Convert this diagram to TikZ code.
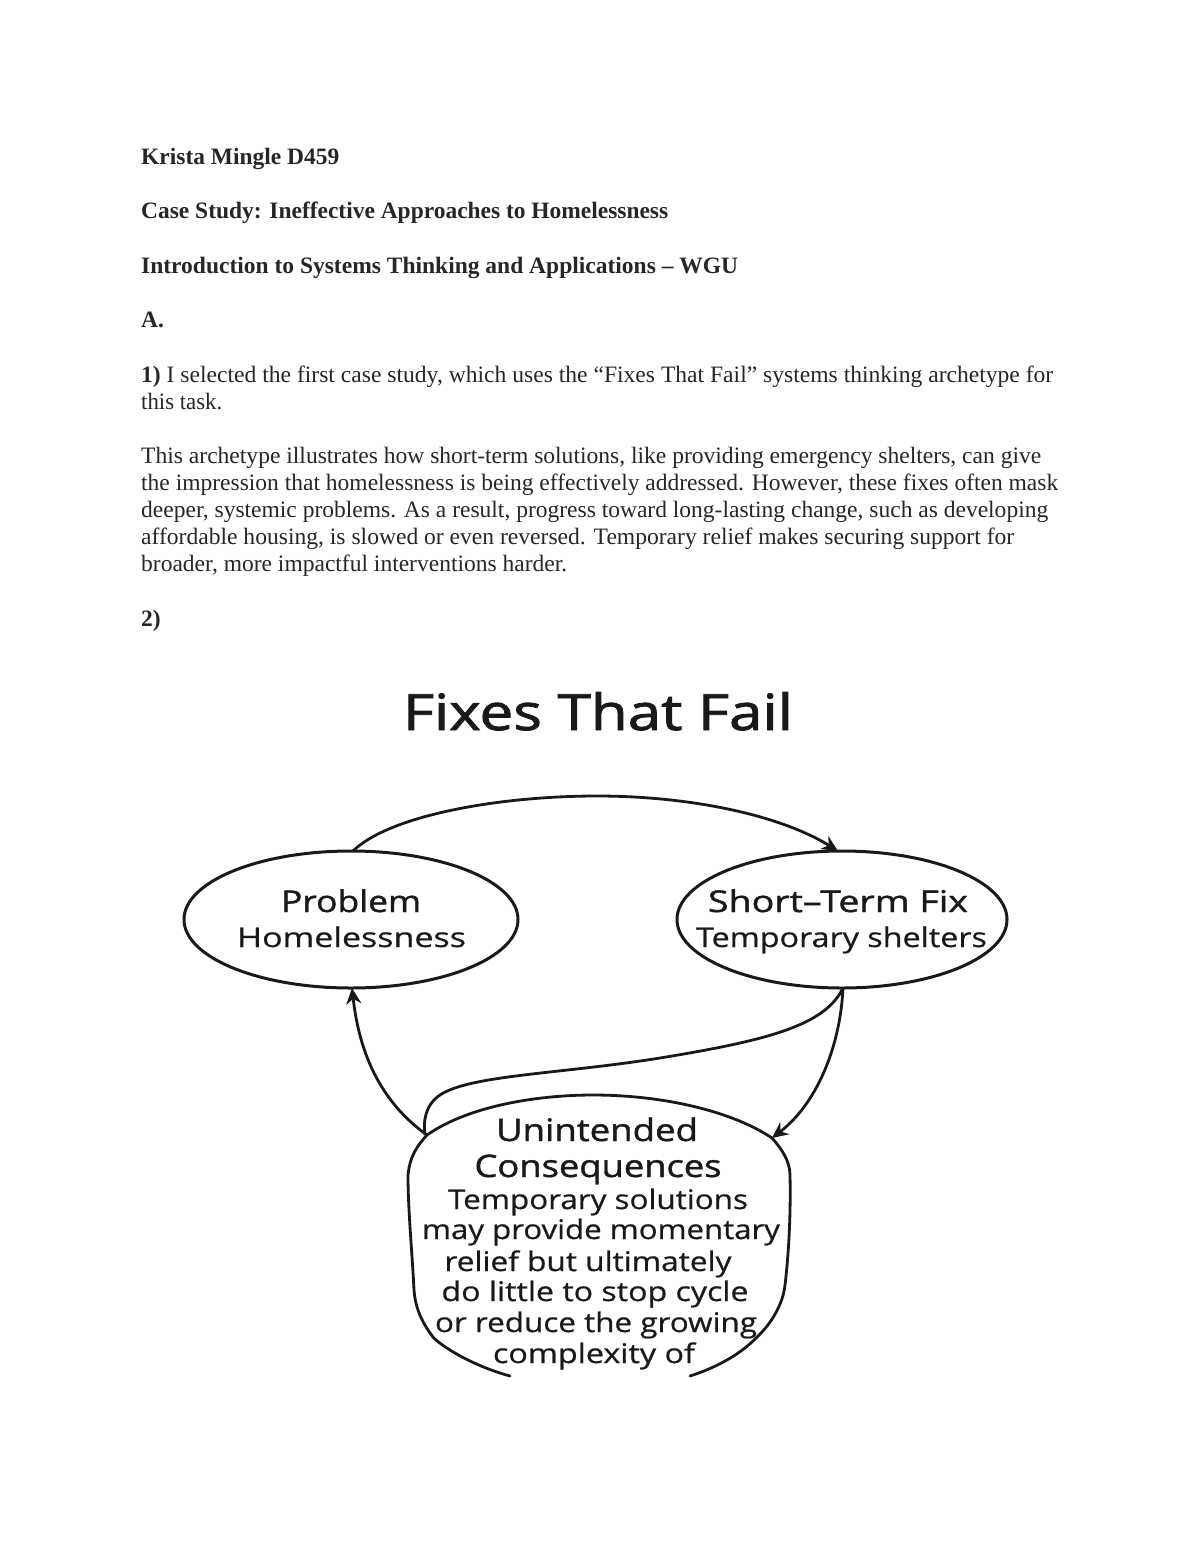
\documentclass[tikz,border=0pt]{standalone}
\usepackage{fontspec}
\usepackage{graphicx}
\setmainfont{Liberation Serif}
\newfontfamily\diag[FakeBold=0.6]{Open Sans}
\newfontfamily\diaghead[FakeBold=1.2]{Open Sans}
\newfontfamily\diagtitle[FakeBold=1.6]{Open Sans}
\usetikzlibrary{arrows.meta,shapes.geometric}
\newcommand{\fitw}[2]{\resizebox{#1pt}{\height}{#2}}
\tikzset{
  bodyline/.style={anchor=base west,inner sep=0pt,font=\fontsize{23.5}{27}\selectfont,text=black!85},
  dline/.style={anchor=base,inner sep=0pt,text=black!90,font=\diag\fontsize{27}{30}\selectfont},
  dhead/.style={dline,font=\diaghead\fontsize{30}{30}\selectfont},
  oval/.style={ellipse,draw=black!90,line width=3pt,inner sep=0pt},
  link/.style={draw=black!90,line width=2.8pt},
  linkarrow/.style={link,-{Stealth[length=16pt,width=15pt]}}
}
\begin{document}
\begin{tikzpicture}[x=1pt,y=-1pt]
\useasboundingbox (0,0) rectangle (1200,1553);
% page text
\node[bodyline] (t1) at (141,164) {\fitw{198}{\textbf{Krista Mingle D459}}};
\node[bodyline] (t2) at (141,218) {\fitw{527}{\textbf{Case Study: Ineffective Approaches to Homelessness}}};
\node[bodyline] (t3) at (141,273) {\fitw{597}{\textbf{Introduction to Systems Thinking and Applications – WGU}}};
\node[bodyline] (t4) at (141,327) {\textbf{A.}};
\node[bodyline] (t5) at (141,382) {\fitw{912}{\textbf{1)} I selected the first case study, which uses the “Fixes That Fail” systems thinking archetype for}};
\node[bodyline] (t6) at (141,409) {\fitw{81}{this task.}};
\node[bodyline] (t7) at (141,463) {\fitw{900}{This archetype illustrates how short-term solutions, like providing emergency shelters, can give}};
\node[bodyline] (t8) at (141,490) {\fitw{917}{the impression that homelessness is being effectively addressed. However, these fixes often mask}};
\node[bodyline] (t9) at (141,517) {\fitw{907}{deeper, systemic problems. As a result, progress toward long-lasting change, such as developing}};
\node[bodyline] (t10) at (141,544) {\fitw{873}{affordable housing, is slowed or even reversed. Temporary relief makes securing support for}};
\node[bodyline] (t11) at (141,571) {\fitw{426}{broader, more impactful interventions harder.}};
\node[bodyline] (t12) at (141,626) {\textbf{2)}};
% title
\node[dline,font=\diagtitle\fontsize{50}{50}\selectfont] (title) at (598,730) {\fitw{390}{Fixes That Fail}};
% ovals
\node[oval,minimum width=334pt,minimum height=137pt] (prob) at (351,919.5) {};
\node[oval,minimum width=330pt,minimum height=137pt] (fix) at (842,919.5) {};
\node[dhead] (p1) at (351,912) {\fitw{140}{Problem}};
\node[dline] (p2) at (351.5,947) {\fitw{229}{Homelessness}};
\node[dhead] (f1) at (838,912) {\fitw{260}{Short–Term Fix}};
\node[dline] (f2) at (841.5,947) {\fitw{291}{Temporary shelters}};
% consequences outline (cropped at the bottom)
\coordinate (ucL) at (427,1135);
\coordinate (ucR) at (772,1138);
\coordinate (ucS) at (425,1135);
\draw[link,line cap=round] (510,1376) .. controls (470,1365) and (440,1345) .. (433,1337)
  .. controls (420,1320) and (415,1305) .. (414,1290)
  .. controls (412,1250) and (408,1210) .. (408,1175)
  .. controls (410,1155) and (418,1145) .. (ucL)
  .. controls (470,1105) and (540,1095) .. (593,1095)
  .. controls (660,1095) and (730,1110) .. (ucR)
  .. controls (780,1147) and (790,1160) .. (790,1175)
  .. controls (791,1220) and (788,1260) .. (785,1285)
  .. controls (783,1305) and (770,1325) .. (757,1337)
  .. controls (740,1355) and (715,1368) .. (690,1376);
\node[dhead,font=\diaghead\fontsize{31}{30}\selectfont] (u1) at (597,1141) {\fitw{202}{Unintended}};
\node[dhead,font=\diaghead\fontsize{31}{30}\selectfont] (u2) at (598,1177) {\fitw{247}{Consequences}};
\node[dline] (u3) at (598,1209) {\fitw{300}{Temporary solutions}};
\node[dline] (u4) at (601,1239) {\fitw{358}{may provide momentary}};
\node[dline] (u5) at (588,1271) {\fitw{287}{relief but ultimately}};
\node[dline] (u6) at (595,1301) {\fitw{307}{do little to stop cycle}};
\node[dline] (u7) at (596,1332) {\fitw{322}{or reduce the growing}};
\node[dline] (u8) at (594,1363) {\fitw{202}{complexity of}};
% connectors
\coordinate (pa) at (353,851);
\coordinate (fa) at (838,851);
\coordinate (pb) at (352,988);
\coordinate (fb) at (843,988);
\draw[linkarrow] (pa) .. controls (390,815) and (500,796) .. (597,796)
  .. controls (690,796) and (780,815) .. (fa);
\draw[linkarrow] (ucL) .. controls (385,1105) and (360,1060) .. (pb);
\draw[linkarrow] (fb) .. controls (840,1050) and (815,1105) .. (ucR);
\draw[link] (fb) .. controls (825,1025) and (770,1040) .. (660,1058)
  .. controls (560,1074) and (470,1075) .. (440,1095)
  .. controls (425,1105) and (423,1122) .. (ucS);
\end{tikzpicture}
\end{document}
